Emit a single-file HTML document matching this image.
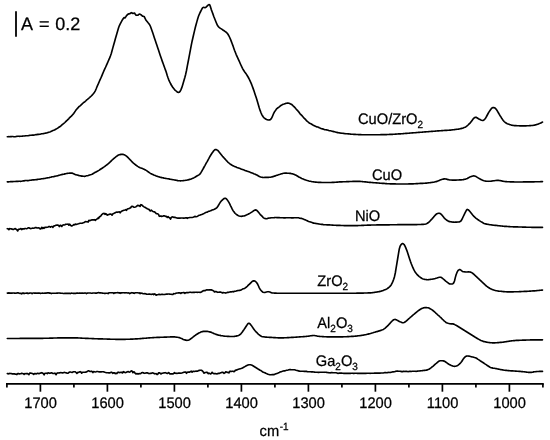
<!DOCTYPE html>
<html><head><meta charset="utf-8"><title>IR spectra</title>
<style>
html,body{margin:0;padding:0;background:#fff;}
body{width:550px;height:440px;overflow:hidden;}
svg{display:block;}
text{font-family:"Liberation Sans",Arial,sans-serif;fill:#000;text-rendering:geometricPrecision;stroke:#000;stroke-width:0.25px;}
.c{fill:none;stroke:#000;stroke-width:1.65;stroke-linejoin:round;stroke-linecap:round;}
.ax line{stroke:#000;stroke-width:1.7;}
.lb{font-size:14.67px;}
.sub{font-size:10px;}
.sup{font-size:10px;}
</style></head><body>
<svg width="550" height="440" viewBox="0 0 550 440">
<rect width="550" height="440" fill="#fff"/>
<line x1="16" y1="11.3" x2="16" y2="36.8" stroke="#000" stroke-width="1.8"/>
<text x="21" y="29.8" font-size="18">A<tspan dx="2"> =</tspan><tspan dx="0.8"> 0.2</tspan></text>
<path class="c" d="M7.3,136.7 8.1,136.7 8.9,136.6 9.7,136.7 10.5,136.6 11.3,136.6 12.1,136.5 12.9,136.5 13.7,136.7 14.5,136.8 15.3,136.7 16.1,136.5 16.9,136.4 17.7,136.3 18.5,136.2 19.3,136.3 20.1,136.3 20.9,136.2 21.7,136.2 22.5,136.1 23.3,136.0 24.1,136.0 24.9,135.9 25.7,135.7 26.5,135.7 27.3,135.7 28.1,135.7 28.9,135.5 29.7,135.4 30.5,135.3 31.3,135.2 32.1,135.1 32.9,135.1 33.7,135.1 34.5,135.0 35.3,134.8 36.1,134.6 36.9,134.6 37.7,134.4 38.5,134.3 39.3,134.3 40.1,134.2 40.9,134.0 41.7,133.8 42.5,133.7 43.3,133.6 44.1,133.5 44.9,133.3 45.7,133.1 46.5,133.0 47.3,132.7 48.1,132.4 48.9,132.2 49.7,132.0 50.5,131.7 51.3,131.3 52.1,130.9 52.9,130.6 53.7,130.3 54.5,130.0 55.3,129.5 56.1,129.1 56.9,128.6 57.7,128.1 58.5,127.5 59.3,127.0 60.1,126.5 60.9,125.9 61.7,125.1 62.5,124.4 63.3,123.8 64.1,123.2 64.9,122.5 65.7,121.7 66.5,120.9 67.3,120.2 68.1,119.4 68.9,118.6 69.7,117.6 70.5,116.8 71.3,116.1 72.1,115.3 72.9,114.4 73.7,113.4 74.5,112.3 75.3,111.1 76.1,109.9 76.9,109.0 77.7,108.1 78.5,107.2 79.3,106.4 80.1,105.8 80.9,105.1 81.7,104.4 82.5,103.5 83.3,102.8 84.1,102.2 84.9,101.7 85.7,101.0 86.5,100.2 87.3,99.5 88.1,98.8 88.9,98.2 89.7,97.5 90.5,96.7 91.3,96.0 92.1,95.2 92.9,94.3 93.7,93.3 94.5,92.2 95.3,90.8 96.1,89.0 96.9,87.0 97.7,85.1 98.5,83.4 99.3,81.5 100.1,79.7 100.9,78.0 101.7,76.2 102.5,74.1 103.3,72.2 104.1,70.4 104.9,68.7 105.7,67.0 106.5,65.2 107.3,63.4 108.1,61.5 108.9,59.7 109.7,57.9 110.5,55.8 111.3,53.4 112.1,50.6 112.9,47.6 113.7,44.7 114.5,41.9 115.3,39.1 116.1,36.2 116.9,33.5 117.7,30.8 118.5,28.1 119.3,25.8 120.1,24.1 120.9,22.6 121.7,21.1 122.5,19.7 123.3,18.5 124.1,17.6 124.9,18.0 125.7,16.9 126.5,15.7 127.3,14.9 128.1,14.1 128.9,13.9 129.7,13.7 130.5,13.2 131.3,12.7 132.1,13.0 132.9,13.5 133.7,13.2 134.5,13.0 135.3,14.2 136.1,15.3 136.9,15.2 137.7,15.2 138.5,14.7 139.3,14.1 140.1,14.3 140.9,14.7 141.7,15.4 142.5,16.2 143.3,16.3 144.1,16.5 144.9,18.0 145.7,19.7 146.5,20.8 147.3,21.8 148.1,22.8 148.9,23.7 149.7,24.9 150.5,26.5 151.3,28.7 152.1,31.0 152.9,33.3 153.7,35.7 154.5,38.2 155.3,40.6 156.1,42.9 156.9,45.3 157.7,47.7 158.5,50.1 159.3,52.5 160.1,54.9 160.9,57.2 161.7,59.6 162.5,61.9 163.3,64.0 164.1,66.3 164.9,68.5 165.7,70.6 166.5,73.1 167.3,75.7 168.1,78.0 168.9,80.1 169.7,81.9 170.5,83.5 171.3,85.0 172.1,86.3 172.9,87.6 173.7,88.6 174.5,89.6 175.3,90.3 176.1,91.0 176.9,91.7 177.7,92.2 178.5,92.4 179.3,92.3 180.1,91.4 180.9,89.9 181.7,87.9 182.5,85.4 183.3,82.7 184.1,79.9 184.9,77.2 185.7,74.2 186.5,70.5 187.3,66.2 188.1,62.0 188.9,57.8 189.7,53.6 190.5,49.4 191.3,45.2 192.1,41.2 192.9,37.7 193.7,34.3 194.5,30.9 195.3,27.5 196.1,24.5 196.9,21.6 197.7,18.8 198.5,16.3 199.3,14.3 200.1,12.5 200.9,11.0 201.7,9.4 202.5,7.9 203.3,7.4 204.1,7.5 204.9,7.6 205.7,7.4 206.5,6.8 207.3,5.9 208.1,5.1 208.9,4.6 209.7,4.8 210.5,6.9 211.3,9.6 212.1,11.7 212.9,13.9 213.7,16.2 214.5,18.3 215.3,20.3 216.1,22.3 216.9,24.2 217.7,25.8 218.5,26.8 219.3,27.5 220.1,28.1 220.9,28.6 221.7,29.1 222.5,29.7 223.3,30.2 224.1,30.7 224.9,31.3 225.7,31.9 226.5,32.5 227.3,33.3 228.1,34.5 228.9,35.9 229.7,37.5 230.5,39.3 231.3,41.4 232.1,43.5 232.9,45.6 233.7,47.9 234.5,50.2 235.3,52.2 236.1,54.3 236.9,56.1 237.7,57.8 238.5,59.6 239.3,61.3 240.1,63.2 240.9,65.0 241.7,66.7 242.5,68.3 243.3,69.8 244.1,71.1 244.9,72.2 245.7,73.2 246.5,74.4 247.3,75.7 248.1,77.0 248.9,78.5 249.7,80.2 250.5,81.9 251.3,83.6 252.1,85.7 252.9,87.9 253.7,90.1 254.5,92.5 255.3,94.9 256.1,97.3 256.9,99.7 257.7,102.4 258.5,105.3 259.3,108.0 260.1,110.4 260.9,112.5 261.7,114.3 262.5,115.8 263.3,117.0 264.1,117.8 264.9,118.5 265.7,119.0 266.5,119.5 267.3,119.7 268.1,119.9 268.9,120.0 269.7,119.9 270.5,119.5 271.3,118.6 272.1,117.2 272.9,115.3 273.7,113.3 274.5,111.8 275.3,110.8 276.1,109.6 276.9,108.6 277.7,108.0 278.5,107.4 279.3,106.8 280.1,106.1 280.9,105.5 281.7,105.1 282.5,104.6 283.3,104.2 284.1,104.0 284.9,103.7 285.7,103.4 286.5,103.2 287.3,103.1 288.1,103.1 288.9,103.2 289.7,103.5 290.5,103.9 291.3,104.3 292.1,104.8 292.9,105.6 293.7,106.3 294.5,107.1 295.3,108.0 296.1,109.0 296.9,109.9 297.7,110.7 298.5,111.6 299.3,112.7 300.1,113.8 300.9,114.6 301.7,115.4 302.5,116.3 303.3,117.2 304.1,118.1 304.9,118.9 305.7,119.7 306.5,120.6 307.3,121.3 308.1,122.0 308.9,122.7 309.7,123.2 310.5,123.6 311.3,124.0 312.1,124.5 312.9,125.0 313.7,125.4 314.5,125.8 315.3,126.2 316.1,126.6 316.9,126.9 317.7,127.0 318.5,127.2 319.3,127.7 320.1,128.1 320.9,128.4 321.7,128.7 322.5,128.9 323.3,129.1 324.1,129.4 324.9,129.7 325.7,129.8 326.5,129.9 327.3,130.0 328.1,130.3 328.9,130.6 329.7,130.7 330.5,130.8 331.3,131.0 332.1,131.2 332.9,131.4 333.7,131.6 334.5,131.8 335.3,132.0 336.1,132.2 336.9,132.4 337.7,132.6 338.5,132.8 339.3,132.9 340.1,133.0 340.9,133.1 341.7,133.2 342.5,133.3 343.3,133.4 344.1,133.5 344.9,133.6 345.7,133.7 346.5,133.7 347.3,133.8 348.1,133.9 348.9,133.9 349.7,134.0 350.5,134.1 351.3,134.2 352.1,134.2 352.9,134.3 353.7,134.4 354.5,134.4 355.3,134.4 356.1,134.5 356.9,134.5 357.7,134.5 358.5,134.6 359.3,134.6 360.1,134.6 360.9,134.6 361.7,134.7 362.5,134.7 363.3,134.7 364.1,134.7 364.9,134.7 365.7,134.7 366.5,134.7 367.3,134.7 368.1,134.7 368.9,134.7 369.7,134.7 370.5,134.7 371.3,134.7 372.1,134.7 372.9,134.7 373.7,134.7 374.5,134.7 375.3,134.7 376.1,134.7 376.9,134.7 377.7,134.7 378.5,134.7 379.3,134.7 380.1,134.7 380.9,134.6 381.7,134.6 382.5,134.6 383.3,134.6 384.1,134.6 384.9,134.6 385.7,134.6 386.5,134.6 387.3,134.5 388.1,134.5 388.9,134.5 389.7,134.4 390.5,134.4 391.3,134.4 392.1,134.3 392.9,134.3 393.7,134.2 394.5,134.2 395.3,134.1 396.1,134.1 396.9,134.0 397.7,134.0 398.5,133.9 399.3,133.9 400.1,133.8 400.9,133.8 401.7,133.7 402.5,133.7 403.3,133.6 404.1,133.5 404.9,133.5 405.7,133.4 406.5,133.3 407.3,133.3 408.1,133.2 408.9,133.2 409.7,133.1 410.5,133.0 411.3,133.0 412.1,132.9 412.9,132.9 413.7,132.8 414.5,132.7 415.3,132.7 416.1,132.6 416.9,132.5 417.7,132.5 418.5,132.4 419.3,132.4 420.1,132.3 420.9,132.2 421.7,132.2 422.5,132.1 423.3,132.0 424.1,132.0 424.9,131.9 425.7,131.9 426.5,131.8 427.3,131.7 428.1,131.7 428.9,131.6 429.7,131.5 430.5,131.5 431.3,131.4 432.1,131.3 432.9,131.3 433.7,131.2 434.5,131.2 435.3,131.1 436.1,131.0 436.9,131.0 437.7,130.9 438.5,130.8 439.3,130.8 440.1,130.7 440.9,130.7 441.7,130.6 442.5,130.6 443.3,130.5 444.1,130.5 444.9,130.4 445.7,130.4 446.5,130.3 447.3,130.3 448.1,130.2 448.9,130.2 449.7,130.1 450.5,130.1 451.3,130.0 452.1,129.9 452.9,129.8 453.7,129.7 454.5,129.6 455.3,129.5 456.1,129.4 456.9,129.3 457.7,129.2 458.5,129.1 459.3,129.0 460.1,128.8 460.9,128.6 461.7,128.4 462.5,128.2 463.3,127.9 464.1,127.6 464.9,127.3 465.7,126.9 466.5,126.3 467.3,125.7 468.1,125.0 468.9,124.2 469.7,123.4 470.5,122.6 471.3,121.5 472.1,120.4 472.9,119.3 473.7,118.4 474.5,117.7 475.3,117.3 476.1,117.3 476.9,117.8 477.7,118.3 478.5,118.8 479.3,119.2 480.1,119.6 480.9,120.0 481.7,120.3 482.5,120.5 483.3,120.4 484.1,119.9 484.9,119.0 485.7,117.9 486.5,116.5 487.3,115.0 488.1,113.5 488.9,112.1 489.7,110.9 490.5,109.8 491.3,108.7 492.1,107.9 492.9,107.6 493.7,107.6 494.5,107.8 495.3,108.3 496.1,109.1 496.9,110.3 497.7,111.6 498.5,113.0 499.3,114.4 500.1,115.7 500.9,116.9 501.7,118.2 502.5,119.4 503.3,120.5 504.1,121.5 504.9,122.2 505.7,122.8 506.5,123.3 507.3,123.7 508.1,124.0 508.9,124.3 509.7,124.6 510.5,124.8 511.3,125.1 512.1,125.3 512.9,125.4 513.7,125.5 514.5,125.6 515.3,125.6 516.1,125.6 516.9,125.7 517.7,125.7 518.5,125.7 519.3,125.8 520.1,125.8 520.9,125.8 521.7,125.8 522.5,125.8 523.3,125.8 524.1,125.8 524.9,125.8 525.7,125.8 526.5,125.8 527.3,125.7 528.1,125.7 528.9,125.7 529.7,125.6 530.5,125.6 531.3,125.5 532.1,125.5 532.9,125.4 533.7,125.2 534.5,125.1 535.3,124.9 536.1,124.7 536.9,124.4 537.7,124.2 538.5,123.9 539.3,123.6 540.1,123.3 540.9,122.9 541.7,122.5 542.5,122.1"/>
<path class="c" d="M7.3,181.8 8.1,181.8 8.9,181.8 9.7,181.7 10.5,181.6 11.3,181.5 12.1,181.6 12.9,181.6 13.7,181.5 14.5,181.5 15.3,181.5 16.1,181.4 16.9,181.3 17.7,181.3 18.5,181.3 19.3,181.2 20.1,181.3 20.9,181.3 21.7,181.2 22.5,181.0 23.3,180.9 24.1,180.9 24.9,180.6 25.7,180.5 26.5,180.5 27.3,180.6 28.1,180.6 28.9,180.5 29.7,180.2 30.5,180.2 31.3,180.1 32.1,180.0 32.9,179.9 33.7,179.8 34.5,179.8 35.3,179.7 36.1,179.6 36.9,179.6 37.7,179.4 38.5,179.3 39.3,179.2 40.1,179.1 40.9,179.0 41.7,178.8 42.5,178.7 43.3,178.6 44.1,178.5 44.9,178.4 45.7,178.2 46.5,178.0 47.3,177.9 48.1,177.8 48.9,177.7 49.7,177.4 50.5,177.3 51.3,177.1 52.1,176.8 52.9,176.7 53.7,176.6 54.5,176.4 55.3,176.2 56.1,176.0 56.9,175.9 57.7,175.7 58.5,175.4 59.3,175.2 60.1,175.0 60.9,174.8 61.7,174.6 62.5,174.4 63.3,174.2 64.1,174.1 64.9,173.9 65.7,173.7 66.5,173.5 67.3,173.4 68.1,173.3 68.9,173.2 69.7,173.1 70.5,173.1 71.3,173.1 72.1,173.1 72.9,173.4 73.7,173.8 74.5,174.2 75.3,174.6 76.1,174.8 76.9,175.0 77.7,175.1 78.5,175.4 79.3,175.6 80.1,175.7 80.9,175.9 81.7,176.1 82.5,176.1 83.3,176.2 84.1,176.3 84.9,176.3 85.7,176.1 86.5,175.8 87.3,175.7 88.1,175.6 88.9,175.3 89.7,175.0 90.5,174.7 91.3,174.5 92.1,174.2 92.9,173.7 93.7,173.2 94.5,172.8 95.3,172.3 96.1,171.9 96.9,171.5 97.7,171.1 98.5,170.6 99.3,170.1 100.1,169.5 100.9,169.0 101.7,168.5 102.5,168.0 103.3,167.4 104.1,166.9 104.9,166.3 105.7,165.7 106.5,165.1 107.3,164.5 108.1,163.8 108.9,163.1 109.7,162.3 110.5,161.6 111.3,160.8 112.1,160.0 112.9,159.3 113.7,158.6 114.5,158.0 115.3,157.3 116.1,156.7 116.9,156.1 117.7,155.5 118.5,155.1 119.3,154.8 120.1,154.6 120.9,154.4 121.7,154.3 122.5,154.3 123.3,154.4 124.1,154.7 124.9,155.1 125.7,155.6 126.5,156.2 127.3,156.9 128.1,157.7 128.9,158.5 129.7,159.3 130.5,160.2 131.3,161.0 132.1,161.8 132.9,162.6 133.7,163.3 134.5,164.0 135.3,164.6 136.1,165.3 136.9,165.8 137.7,166.4 138.5,166.9 139.3,167.3 140.1,167.7 140.9,168.0 141.7,168.3 142.5,168.6 143.3,168.9 144.1,169.3 144.9,169.7 145.7,170.1 146.5,170.6 147.3,171.2 148.1,171.8 148.9,172.3 149.7,172.9 150.5,173.4 151.3,173.8 152.1,174.2 152.9,174.6 153.7,175.0 154.5,175.3 155.3,175.6 156.1,175.9 156.9,176.2 157.7,176.4 158.5,176.7 159.3,176.9 160.1,177.2 160.9,177.4 161.7,177.6 162.5,177.8 163.3,177.9 164.1,178.1 164.9,178.2 165.7,178.4 166.5,178.5 167.3,178.7 168.1,178.8 168.9,178.9 169.7,179.1 170.5,179.2 171.3,179.4 172.1,179.5 172.9,179.7 173.7,179.8 174.5,180.0 175.3,180.1 176.1,180.3 176.9,180.4 177.7,180.6 178.5,180.7 179.3,180.7 180.1,180.8 180.9,180.8 181.7,180.7 182.5,180.7 183.3,180.6 184.1,180.5 184.9,180.5 185.7,180.3 186.5,180.2 187.3,180.0 188.1,179.9 188.9,179.6 189.7,179.4 190.5,179.2 191.3,178.9 192.1,178.6 192.9,178.2 193.7,177.9 194.5,177.4 195.3,177.0 196.1,176.5 196.9,176.0 197.7,175.6 198.5,175.1 199.3,174.6 200.1,173.8 200.9,172.7 201.7,171.3 202.5,169.9 203.3,168.5 204.1,167.0 204.9,165.6 205.7,164.1 206.5,162.7 207.3,161.3 208.1,159.8 208.9,158.4 209.7,156.9 210.5,155.5 211.3,154.2 212.1,153.0 212.9,151.9 213.7,150.8 214.5,150.0 215.3,149.6 216.1,149.6 216.9,149.9 217.7,150.4 218.5,151.2 219.3,152.2 220.1,153.2 220.9,154.2 221.7,155.2 222.5,156.2 223.3,157.1 224.1,158.0 224.9,158.9 225.7,159.8 226.5,160.7 227.3,161.5 228.1,162.3 228.9,163.0 229.7,163.7 230.5,164.3 231.3,164.8 232.1,165.3 232.9,165.7 233.7,166.1 234.5,166.4 235.3,166.7 236.1,167.0 236.9,167.4 237.7,167.7 238.5,168.0 239.3,168.3 240.1,168.6 240.9,168.9 241.7,169.2 242.5,169.5 243.3,169.8 244.1,170.1 244.9,170.4 245.7,170.7 246.5,170.9 247.3,171.2 248.1,171.5 248.9,171.8 249.7,172.1 250.5,172.4 251.3,172.7 252.1,173.0 252.9,173.3 253.7,173.7 254.5,174.0 255.3,174.3 256.1,174.7 256.9,175.1 257.7,175.5 258.5,176.0 259.3,176.4 260.1,176.8 260.9,177.1 261.7,177.3 262.5,177.4 263.3,177.5 264.1,177.5 264.9,177.4 265.7,177.4 266.5,177.4 267.3,177.4 268.1,177.3 268.9,177.3 269.7,177.2 270.5,177.2 271.3,177.0 272.1,176.9 272.9,176.6 273.7,176.4 274.5,176.1 275.3,175.9 276.1,175.6 276.9,175.3 277.7,175.1 278.5,174.8 279.3,174.5 280.1,174.3 280.9,174.0 281.7,173.8 282.5,173.6 283.3,173.3 284.1,173.2 284.9,173.1 285.7,173.1 286.5,173.1 287.3,173.2 288.1,173.2 288.9,173.3 289.7,173.4 290.5,173.4 291.3,173.6 292.1,173.7 292.9,173.9 293.7,174.2 294.5,174.5 295.3,174.9 296.1,175.3 296.9,175.8 297.7,176.3 298.5,176.8 299.3,177.3 300.1,177.6 300.9,178.0 301.7,178.4 302.5,178.7 303.3,179.1 304.1,179.4 304.9,179.7 305.7,180.0 306.5,180.2 307.3,180.5 308.1,180.7 308.9,181.0 309.7,181.2 310.5,181.3 311.3,181.5 312.1,181.7 312.9,181.8 313.7,181.9 314.5,182.0 315.3,182.1 316.1,182.1 316.9,182.2 317.7,182.3 318.5,182.3 319.3,182.4 320.1,182.4 320.9,182.4 321.7,182.5 322.5,182.5 323.3,182.5 324.1,182.5 324.9,182.5 325.7,182.5 326.5,182.5 327.3,182.5 328.1,182.5 328.9,182.5 329.7,182.5 330.5,182.5 331.3,182.5 332.1,182.4 332.9,182.4 333.7,182.3 334.5,182.3 335.3,182.2 336.1,182.2 336.9,182.1 337.7,182.1 338.5,182.0 339.3,181.9 340.1,181.9 340.9,181.8 341.7,181.8 342.5,181.8 343.3,181.7 344.1,181.7 344.9,181.7 345.7,181.7 346.5,181.6 347.3,181.6 348.1,181.6 348.9,181.6 349.7,181.5 350.5,181.5 351.3,181.5 352.1,181.5 352.9,181.4 353.7,181.4 354.5,181.4 355.3,181.4 356.1,181.4 356.9,181.3 357.7,181.3 358.5,181.4 359.3,181.4 360.1,181.4 360.9,181.5 361.7,181.5 362.5,181.6 363.3,181.7 364.1,181.8 364.9,181.9 365.7,181.9 366.5,182.0 367.3,182.1 368.1,182.2 368.9,182.3 369.7,182.3 370.5,182.4 371.3,182.5 372.1,182.5 372.9,182.6 373.7,182.7 374.5,182.7 375.3,182.8 376.1,182.9 376.9,182.9 377.7,183.0 378.5,183.0 379.3,183.1 380.1,183.2 380.9,183.2 381.7,183.3 382.5,183.3 383.3,183.4 384.1,183.4 384.9,183.5 385.7,183.6 386.5,183.6 387.3,183.7 388.1,183.7 388.9,183.7 389.7,183.8 390.5,183.8 391.3,183.8 392.1,183.9 392.9,183.9 393.7,183.9 394.5,183.9 395.3,183.9 396.1,184.0 396.9,184.0 397.7,184.0 398.5,184.0 399.3,184.0 400.1,184.0 400.9,184.0 401.7,184.0 402.5,184.0 403.3,184.0 404.1,184.0 404.9,184.0 405.7,184.0 406.5,184.0 407.3,184.0 408.1,184.0 408.9,183.9 409.7,183.9 410.5,183.9 411.3,183.9 412.1,183.8 412.9,183.8 413.7,183.8 414.5,183.7 415.3,183.7 416.1,183.6 416.9,183.6 417.7,183.6 418.5,183.5 419.3,183.5 420.1,183.4 420.9,183.4 421.7,183.4 422.5,183.3 423.3,183.3 424.1,183.2 424.9,183.2 425.7,183.1 426.5,183.1 427.3,183.0 428.1,182.9 428.9,182.8 429.7,182.7 430.5,182.6 431.3,182.5 432.1,182.4 432.9,182.3 433.7,182.2 434.5,182.0 435.3,181.8 436.1,181.6 436.9,181.4 437.7,181.1 438.5,180.7 439.3,180.4 440.1,180.1 440.9,179.8 441.7,179.5 442.5,179.3 443.3,179.1 444.1,178.9 444.9,178.9 445.7,179.0 446.5,179.1 447.3,179.4 448.1,179.6 448.9,179.8 449.7,180.0 450.5,180.0 451.3,180.0 452.1,180.1 452.9,180.1 453.7,180.1 454.5,180.1 455.3,180.1 456.1,180.1 456.9,180.0 457.7,180.0 458.5,180.0 459.3,179.9 460.1,179.9 460.9,179.8 461.7,179.8 462.5,179.7 463.3,179.6 464.1,179.4 464.9,179.3 465.7,179.1 466.5,178.8 467.3,178.5 468.1,178.0 468.9,177.6 469.7,177.1 470.5,176.8 471.3,176.5 472.1,176.2 472.9,176.0 473.7,175.9 474.5,176.0 475.3,176.3 476.1,176.6 476.9,177.1 477.7,177.6 478.5,178.1 479.3,178.6 480.1,179.0 480.9,179.4 481.7,179.8 482.5,180.2 483.3,180.5 484.1,180.8 484.9,181.0 485.7,181.1 486.5,181.2 487.3,181.2 488.1,181.3 488.9,181.2 489.7,181.2 490.5,181.2 491.3,181.1 492.1,181.0 492.9,180.9 493.7,180.8 494.5,180.7 495.3,180.5 496.1,180.5 496.9,180.4 497.7,180.4 498.5,180.4 499.3,180.5 500.1,180.6 500.9,180.8 501.7,180.9 502.5,181.1 503.3,181.2 504.1,181.4 504.9,181.5 505.7,181.6 506.5,181.6 507.3,181.7 508.1,181.7 508.9,181.7 509.7,181.8 510.5,181.8 511.3,181.8 512.1,181.9 512.9,181.9 513.7,181.9 514.5,182.0 515.3,182.0 516.1,182.0 516.9,182.0 517.7,182.0 518.5,182.0 519.3,182.0 520.1,182.0 520.9,182.0 521.7,182.0 522.5,182.0 523.3,181.9 524.1,181.9 524.9,181.9 525.7,181.9 526.5,181.9 527.3,181.9 528.1,181.9 528.9,181.9 529.7,181.8 530.5,181.8 531.3,181.8 532.1,181.8 532.9,181.8 533.7,181.8 534.5,181.8 535.3,181.7 536.1,181.7 536.9,181.7 537.7,181.7 538.5,181.7 539.3,181.7 540.1,181.7 540.9,181.6 541.7,181.6 542.5,181.6"/>
<path class="c" d="M7.3,228.7 8.1,228.8 8.9,229.7 9.7,228.6 10.5,228.7 11.3,228.9 12.1,229.1 12.9,229.4 13.7,229.4 14.5,228.8 15.3,228.6 16.1,229.3 16.9,229.8 17.7,231.0 18.5,229.4 19.3,229.2 20.1,228.9 20.9,228.6 21.7,229.6 22.5,228.8 23.3,228.9 24.1,228.9 24.9,228.5 25.7,228.5 26.5,228.7 27.3,228.4 28.1,227.9 28.9,227.8 29.7,228.2 30.5,228.6 31.3,228.5 32.1,228.3 32.9,228.1 33.7,228.2 34.5,228.0 35.3,227.6 36.1,227.6 36.9,227.9 37.7,228.0 38.5,227.9 39.3,228.0 40.1,228.9 40.9,228.9 41.7,227.3 42.5,228.5 43.3,227.7 44.1,228.3 44.9,227.4 45.7,227.3 46.5,227.3 47.3,227.2 48.1,227.0 48.9,226.6 49.7,226.5 50.5,227.2 51.3,226.5 52.1,226.5 52.9,227.3 53.7,226.0 54.5,225.9 55.3,225.6 56.1,225.2 56.9,225.1 57.7,225.1 58.5,225.2 59.3,226.6 60.1,225.4 60.9,225.4 61.7,226.5 62.5,225.2 63.3,224.9 64.1,225.0 64.9,224.7 65.7,224.2 66.5,224.2 67.3,224.2 68.1,224.1 68.9,225.2 69.7,224.2 70.5,225.1 71.3,225.9 72.1,225.9 72.9,225.4 73.7,224.6 74.5,224.8 75.3,224.1 76.1,224.4 76.9,224.2 77.7,224.0 78.5,223.8 79.3,223.5 80.1,223.3 80.9,223.2 81.7,223.3 82.5,223.1 83.3,222.8 84.1,222.5 84.9,221.9 85.7,221.6 86.5,221.8 87.3,221.7 88.1,222.1 88.9,220.4 89.7,220.6 90.5,220.5 91.3,220.0 92.1,219.8 92.9,219.8 93.7,219.9 94.5,219.7 95.3,220.3 96.1,219.6 96.9,219.1 97.7,218.2 98.5,218.5 99.3,217.0 100.1,216.6 100.9,215.8 101.7,214.7 102.5,214.0 103.3,213.5 104.1,213.4 104.9,214.3 105.7,213.7 106.5,214.2 107.3,215.2 108.1,214.5 108.9,214.6 109.7,214.1 110.5,214.0 111.3,214.2 112.1,215.2 112.9,213.8 113.7,213.5 114.5,213.1 115.3,212.8 116.1,212.2 116.9,212.1 117.7,212.3 118.5,212.0 119.3,211.8 120.1,212.8 120.9,211.8 121.7,211.2 122.5,210.8 123.3,210.5 124.1,210.2 124.9,210.0 125.7,209.7 126.5,210.3 127.3,209.0 128.1,208.8 128.9,208.7 129.7,208.0 130.5,208.0 131.3,206.8 132.1,206.3 132.9,206.5 133.7,207.1 134.5,207.2 135.3,207.0 136.1,206.7 136.9,206.0 137.7,205.4 138.5,205.6 139.3,205.6 140.1,206.5 140.9,204.7 141.7,204.9 142.5,205.6 143.3,206.4 144.1,206.9 144.9,207.3 145.7,207.8 146.5,208.2 147.3,208.7 148.1,209.1 148.9,209.3 149.7,210.5 150.5,210.9 151.3,210.2 152.1,210.8 152.9,211.4 153.7,211.7 154.5,211.9 155.3,212.5 156.1,213.4 156.9,213.7 157.7,213.8 158.5,214.4 159.3,216.3 160.1,216.2 160.9,215.9 161.7,216.5 162.5,216.3 163.3,215.9 164.1,215.8 164.9,216.1 165.7,216.5 166.5,216.4 167.3,217.5 168.1,216.7 168.9,217.4 169.7,217.8 170.5,219.2 171.3,217.5 172.1,217.0 172.9,216.9 173.7,217.4 174.5,217.2 175.3,217.4 176.1,217.7 176.9,218.0 177.7,218.1 178.5,218.1 179.3,218.1 180.1,218.1 180.9,218.0 181.7,218.0 182.5,218.0 183.3,218.1 184.1,218.1 184.9,218.0 185.7,217.9 186.5,217.8 187.3,218.3 188.1,217.8 188.9,217.7 189.7,217.5 190.5,217.5 191.3,217.5 192.1,217.5 192.9,217.3 193.7,217.0 194.5,216.6 195.3,216.4 196.1,216.7 196.9,216.5 197.7,216.2 198.5,215.6 199.3,215.3 200.1,215.1 200.9,214.8 201.7,214.5 202.5,214.2 203.3,213.8 204.1,213.4 204.9,212.9 205.7,212.6 206.5,212.3 207.3,212.1 208.1,211.6 208.9,211.3 209.7,211.1 210.5,210.8 211.3,210.4 212.1,210.0 212.9,209.8 213.7,209.6 214.5,209.3 215.3,208.7 216.1,208.3 216.9,207.7 217.7,206.6 218.5,205.3 219.3,203.9 220.1,202.6 220.9,201.6 221.7,200.6 222.5,199.8 223.3,199.1 224.1,198.5 224.9,198.3 225.7,198.3 226.5,198.9 227.3,199.9 228.1,201.1 228.9,202.4 229.7,203.9 230.5,205.6 231.3,207.2 232.1,208.9 232.9,210.4 233.7,211.6 234.5,212.6 235.3,213.5 236.1,214.2 236.9,214.8 237.7,215.3 238.5,215.7 239.3,216.0 240.1,216.2 240.9,216.3 241.7,216.3 242.5,216.1 243.3,216.0 244.1,215.9 244.9,215.7 245.7,215.3 246.5,215.0 247.3,214.6 248.1,214.2 248.9,213.7 249.7,213.4 250.5,212.9 251.3,212.4 252.1,211.9 252.9,211.3 253.7,210.7 254.5,210.3 255.3,209.9 256.1,210.0 256.9,210.5 257.7,211.4 258.5,212.3 259.3,213.3 260.1,214.3 260.9,215.1 261.7,215.9 262.5,216.7 263.3,217.6 264.1,218.2 264.9,218.5 265.7,218.6 266.5,218.7 267.3,218.6 268.1,218.3 268.9,218.1 269.7,218.0 270.5,217.9 271.3,217.7 272.1,217.7 272.9,217.7 273.7,217.7 274.5,217.6 275.3,217.5 276.1,217.5 276.9,217.6 277.7,217.6 278.5,217.5 279.3,217.6 280.1,217.7 280.9,217.7 281.7,217.7 282.5,217.7 283.3,217.8 284.1,217.8 284.9,217.8 285.7,217.8 286.5,217.7 287.3,217.7 288.1,217.7 288.9,217.7 289.7,217.7 290.5,217.8 291.3,217.9 292.1,217.9 292.9,217.8 293.7,217.8 294.5,217.7 295.3,217.7 296.1,217.7 296.9,217.8 297.7,217.7 298.5,217.8 299.3,218.1 300.1,218.3 300.9,218.4 301.7,218.4 302.5,218.7 303.3,219.1 304.1,219.4 304.9,219.7 305.7,220.1 306.5,220.4 307.3,220.8 308.1,221.3 308.9,221.6 309.7,221.7 310.5,222.0 311.3,222.3 312.1,222.6 312.9,222.9 313.7,223.1 314.5,223.3 315.3,223.4 316.1,223.5 316.9,223.6 317.7,223.7 318.5,223.9 319.3,224.0 320.1,224.2 320.9,224.3 321.7,224.3 322.5,224.4 323.3,224.6 324.1,224.7 324.9,224.7 325.7,224.7 326.5,224.8 327.3,224.8 328.1,224.8 328.9,224.8 329.7,224.9 330.5,225.0 331.3,225.0 332.1,225.1 332.9,225.1 333.7,225.2 334.5,225.2 335.3,225.2 336.1,225.3 336.9,225.3 337.7,225.3 338.5,225.4 339.3,225.4 340.1,225.4 340.9,225.5 341.7,225.5 342.5,225.5 343.3,225.5 344.1,225.6 344.9,225.6 345.7,225.6 346.5,225.6 347.3,225.6 348.1,225.6 348.9,225.6 349.7,225.6 350.5,225.6 351.3,225.6 352.1,225.6 352.9,225.6 353.7,225.6 354.5,225.6 355.3,225.6 356.1,225.6 356.9,225.6 357.7,225.6 358.5,225.5 359.3,225.5 360.1,225.5 360.9,225.5 361.7,225.4 362.5,225.4 363.3,225.3 364.1,225.3 364.9,225.2 365.7,225.2 366.5,225.2 367.3,225.1 368.1,225.1 368.9,225.1 369.7,225.1 370.5,225.1 371.3,225.0 372.1,225.0 372.9,225.0 373.7,225.0 374.5,225.0 375.3,225.0 376.1,225.0 376.9,224.9 377.7,224.9 378.5,224.9 379.3,224.9 380.1,224.9 380.9,224.9 381.7,224.9 382.5,224.9 383.3,224.8 384.1,224.8 384.9,224.8 385.7,224.8 386.5,224.8 387.3,224.8 388.1,224.8 388.9,224.8 389.7,224.8 390.5,224.7 391.3,224.7 392.1,224.7 392.9,224.7 393.7,224.7 394.5,224.7 395.3,224.7 396.1,224.7 396.9,224.7 397.7,224.6 398.5,224.6 399.3,224.6 400.1,224.6 400.9,224.6 401.7,224.6 402.5,224.6 403.3,224.6 404.1,224.6 404.9,224.6 405.7,224.6 406.5,224.6 407.3,224.6 408.1,224.6 408.9,224.6 409.7,224.6 410.5,224.6 411.3,224.6 412.1,224.6 412.9,224.6 413.7,224.6 414.5,224.6 415.3,224.6 416.1,224.6 416.9,224.6 417.7,224.5 418.5,224.5 419.3,224.5 420.1,224.5 420.9,224.5 421.7,224.4 422.5,224.4 423.3,224.4 424.1,224.3 424.9,224.2 425.7,224.0 426.5,223.7 427.3,223.3 428.1,222.8 428.9,222.1 429.7,221.3 430.5,220.5 431.3,219.6 432.1,218.8 432.9,217.9 433.7,216.9 434.5,216.0 435.3,215.1 436.1,214.3 436.9,213.8 437.7,213.5 438.5,213.2 439.3,213.2 440.1,213.5 440.9,214.0 441.7,214.8 442.5,215.8 443.3,216.8 444.1,217.8 444.9,218.6 445.7,219.3 446.5,220.0 447.3,220.6 448.1,221.0 448.9,221.4 449.7,221.6 450.5,221.8 451.3,221.9 452.1,222.0 452.9,222.1 453.7,222.1 454.5,222.2 455.3,222.1 456.1,222.1 456.9,222.1 457.7,222.0 458.5,222.0 459.3,221.9 460.1,221.6 460.9,221.0 461.7,219.8 462.5,218.2 463.3,216.5 464.1,214.8 464.9,213.2 465.7,211.7 466.5,210.2 467.3,209.4 468.1,209.7 468.9,210.4 469.7,211.3 470.5,212.2 471.3,213.2 472.1,214.2 472.9,215.2 473.7,216.1 474.5,216.9 475.3,217.6 476.1,218.3 476.9,218.9 477.7,219.5 478.5,220.0 479.3,220.6 480.1,221.1 480.9,221.6 481.7,222.1 482.5,222.5 483.3,223.0 484.1,223.4 484.9,223.7 485.7,223.9 486.5,224.1 487.3,224.3 488.1,224.4 488.9,224.5 489.7,224.7 490.5,224.8 491.3,224.9 492.1,225.0 492.9,225.1 493.7,225.2 494.5,225.3 495.3,225.3 496.1,225.4 496.9,225.5 497.7,225.6 498.5,225.7 499.3,225.8 500.1,225.9 500.9,226.0 501.7,226.0 502.5,226.1 503.3,226.2 504.1,226.3 504.9,226.3 505.7,226.4 506.5,226.4 507.3,226.5 508.1,226.5 508.9,226.6 509.7,226.6 510.5,226.7 511.3,226.7 512.1,226.7 512.9,226.8 513.7,226.8 514.5,226.8 515.3,226.9 516.1,226.9 516.9,226.9 517.7,226.9 518.5,227.0 519.3,227.0 520.1,227.0 520.9,227.0 521.7,227.0 522.5,227.1 523.3,227.1 524.1,227.1 524.9,227.1 525.7,227.1 526.5,227.2 527.3,227.2 528.1,227.2 528.9,227.2 529.7,227.2 530.5,227.2 531.3,227.3 532.1,227.3 532.9,227.3 533.7,227.3 534.5,227.3 535.3,227.3 536.1,227.3 536.9,227.3 537.7,227.4 538.5,227.4 539.3,227.4 540.1,227.4 540.9,227.4 541.7,227.4 542.5,227.4"/>
<path class="c" d="M7.3,293.1 8.1,293.1 8.9,292.9 9.7,293.1 10.5,293.1 11.3,293.0 12.1,293.1 12.9,293.0 13.7,293.0 14.5,293.1 15.3,293.2 16.1,293.1 16.9,293.0 17.7,292.8 18.5,292.9 19.3,293.2 20.1,293.4 20.9,293.3 21.7,293.8 22.5,293.1 23.3,293.0 24.1,293.6 24.9,293.2 25.7,293.2 26.5,293.1 27.3,293.0 28.1,293.6 28.9,293.2 29.7,293.1 30.5,293.0 31.3,293.0 32.1,293.7 32.9,293.0 33.7,293.0 34.5,293.1 35.3,293.1 36.1,293.0 36.9,293.2 37.7,293.1 38.5,293.0 39.3,293.1 40.1,293.3 40.9,293.3 41.7,293.2 42.5,293.1 43.3,293.2 44.1,293.2 44.9,293.1 45.7,293.1 46.5,293.1 47.3,292.8 48.1,292.8 48.9,292.9 49.7,293.1 50.5,293.1 51.3,293.6 52.1,293.2 52.9,293.2 53.7,293.2 54.5,293.2 55.3,293.3 56.1,293.2 56.9,293.1 57.7,293.1 58.5,293.0 59.3,293.0 60.1,293.1 60.9,293.2 61.7,293.2 62.5,293.3 63.3,293.5 64.1,293.5 64.9,293.3 65.7,293.3 66.5,293.3 67.3,293.3 68.1,293.3 68.9,293.3 69.7,293.3 70.5,293.6 71.3,293.1 72.1,293.2 72.9,293.3 73.7,293.3 74.5,293.3 75.3,293.3 76.1,293.3 76.9,293.1 77.7,293.1 78.5,293.2 79.3,293.1 80.1,293.0 80.9,293.2 81.7,293.1 82.5,293.1 83.3,293.2 84.1,293.1 84.9,293.0 85.7,293.0 86.5,293.6 87.3,293.1 88.1,293.0 88.9,293.0 89.7,293.0 90.5,293.0 91.3,293.2 92.1,293.2 92.9,293.0 93.7,293.0 94.5,293.0 95.3,293.1 96.1,293.1 96.9,293.1 97.7,292.7 98.5,292.6 99.3,292.8 100.1,292.8 100.9,292.9 101.7,293.0 102.5,293.1 103.3,293.2 104.1,293.3 104.9,293.3 105.7,293.3 106.5,293.2 107.3,293.2 108.1,293.6 108.9,292.8 109.7,292.7 110.5,292.7 111.3,292.8 112.1,292.7 112.9,292.7 113.7,293.5 114.5,292.9 115.3,292.9 116.1,292.8 116.9,292.7 117.7,292.6 118.5,292.8 119.3,292.8 120.1,293.3 120.9,292.8 121.7,292.9 122.5,292.7 123.3,292.7 124.1,292.8 124.9,292.9 125.7,292.7 126.5,292.7 127.3,292.9 128.1,293.0 128.9,292.9 129.7,293.6 130.5,293.2 131.3,292.7 132.1,292.8 132.9,292.9 133.7,293.1 134.5,293.3 135.3,292.7 136.1,292.7 136.9,292.7 137.7,292.8 138.5,293.0 139.3,292.9 140.1,293.6 140.9,293.0 141.7,293.2 142.5,293.4 143.3,293.7 144.1,293.8 144.9,293.6 145.7,293.7 146.5,294.2 147.3,294.3 148.1,294.2 148.9,294.1 149.7,294.1 150.5,294.2 151.3,294.4 152.1,294.3 152.9,294.0 153.7,294.6 154.5,293.9 155.3,294.3 156.1,295.2 156.9,294.7 157.7,294.7 158.5,294.4 159.3,294.4 160.1,294.6 160.9,294.5 161.7,294.4 162.5,294.4 163.3,294.5 164.1,294.5 164.9,294.4 165.7,294.2 166.5,294.1 167.3,294.1 168.1,294.0 168.9,294.0 169.7,294.1 170.5,294.2 171.3,294.2 172.1,294.5 172.9,294.4 173.7,293.6 174.5,293.7 175.3,293.6 176.1,293.2 176.9,293.0 177.7,293.0 178.5,292.9 179.3,292.9 180.1,292.9 180.9,293.5 181.7,292.7 182.5,292.7 183.3,292.6 184.1,292.6 184.9,293.3 185.7,292.7 186.5,292.6 187.3,292.6 188.1,292.6 188.9,292.5 189.7,292.3 190.5,292.2 191.3,292.4 192.1,292.5 192.9,292.4 193.7,292.4 194.5,292.4 195.3,292.3 196.1,292.2 196.9,292.3 197.7,292.3 198.5,292.2 199.3,292.2 200.1,292.4 200.9,292.2 201.7,291.8 202.5,291.3 203.3,290.8 204.1,290.5 204.9,290.6 205.7,290.4 206.5,289.9 207.3,289.9 208.1,290.0 208.9,289.9 209.7,289.8 210.5,289.8 211.3,289.9 212.1,290.1 212.9,290.6 213.7,290.9 214.5,292.0 215.3,291.6 216.1,291.6 216.9,291.9 217.7,292.3 218.5,292.2 219.3,292.1 220.1,292.1 220.9,292.1 221.7,292.6 222.5,293.0 223.3,292.5 224.1,292.7 224.9,292.7 225.7,293.1 226.5,292.8 227.3,292.4 228.1,292.4 228.9,292.2 229.7,292.0 230.5,291.9 231.3,291.9 232.1,291.8 232.9,291.5 233.7,291.8 234.5,291.2 235.3,291.2 236.1,291.1 236.9,290.8 237.7,290.6 238.5,290.5 239.3,290.3 240.1,290.3 240.9,290.1 241.7,289.6 242.5,289.1 243.3,288.8 244.1,288.6 244.9,288.2 245.7,287.6 246.5,287.0 247.3,286.3 248.1,285.4 248.9,284.6 249.7,284.0 250.5,283.1 251.3,282.3 252.1,281.5 252.9,281.1 253.7,280.9 254.5,280.9 255.3,281.3 256.1,282.0 256.9,283.0 257.7,284.3 258.5,286.0 259.3,287.8 260.1,289.2 260.9,290.3 261.7,291.2 262.5,291.9 263.3,292.3 264.1,292.5 264.9,292.4 265.7,292.2 266.5,292.0 267.3,291.8 268.1,291.7 268.9,291.8 269.7,292.0 270.5,292.3 271.3,292.7 272.1,292.9 272.9,293.0 273.7,293.0 274.5,293.1 275.3,293.1 276.1,293.1 276.9,293.2 277.7,293.2 278.5,293.2 279.3,293.2 280.1,293.2 280.9,293.2 281.7,293.2 282.5,293.2 283.3,293.2 284.1,293.2 284.9,293.2 285.7,293.2 286.5,293.2 287.3,293.2 288.1,293.2 288.9,293.2 289.7,293.2 290.5,293.2 291.3,293.2 292.1,293.2 292.9,293.2 293.7,293.2 294.5,293.2 295.3,293.2 296.1,293.2 296.9,293.2 297.7,293.2 298.5,293.2 299.3,293.2 300.1,293.2 300.9,293.2 301.7,293.2 302.5,293.2 303.3,293.2 304.1,293.2 304.9,293.2 305.7,293.2 306.5,293.2 307.3,293.2 308.1,293.2 308.9,293.2 309.7,293.2 310.5,293.2 311.3,293.2 312.1,293.2 312.9,293.2 313.7,293.2 314.5,293.2 315.3,293.2 316.1,293.2 316.9,293.2 317.7,293.2 318.5,293.2 319.3,293.2 320.1,293.2 320.9,293.2 321.7,293.2 322.5,293.2 323.3,293.2 324.1,293.2 324.9,293.2 325.7,293.2 326.5,293.2 327.3,293.2 328.1,293.2 328.9,293.2 329.7,293.2 330.5,293.2 331.3,293.2 332.1,293.2 332.9,293.2 333.7,293.2 334.5,293.2 335.3,293.2 336.1,293.2 336.9,293.2 337.7,293.2 338.5,293.2 339.3,293.2 340.1,293.2 340.9,293.2 341.7,293.2 342.5,293.2 343.3,293.2 344.1,293.2 344.9,293.2 345.7,293.2 346.5,293.2 347.3,293.2 348.1,293.2 348.9,293.2 349.7,293.2 350.5,293.2 351.3,293.2 352.1,293.2 352.9,293.2 353.7,293.2 354.5,293.2 355.3,293.2 356.1,293.2 356.9,293.1 357.7,293.1 358.5,293.1 359.3,293.1 360.1,293.1 360.9,293.1 361.7,293.1 362.5,293.1 363.3,293.1 364.1,293.0 364.9,293.0 365.7,293.0 366.5,293.0 367.3,293.0 368.1,292.9 368.9,292.9 369.7,292.9 370.5,292.8 371.3,292.8 372.1,292.7 372.9,292.6 373.7,292.5 374.5,292.4 375.3,292.3 376.1,292.1 376.9,292.0 377.7,291.9 378.5,291.8 379.3,291.6 380.1,291.4 380.9,291.2 381.7,290.9 382.5,290.7 383.3,290.4 384.1,290.1 384.9,289.8 385.7,289.5 386.5,289.1 387.3,288.6 388.1,288.0 388.9,287.4 389.7,286.7 390.5,285.9 391.3,284.7 392.1,283.2 392.9,281.4 393.7,279.3 394.5,276.7 395.3,273.0 396.1,268.2 396.9,263.3 397.7,258.5 398.5,253.6 399.3,248.9 400.1,246.2 400.9,244.9 401.7,244.0 402.5,243.6 403.3,243.8 404.1,244.5 404.9,245.9 405.7,247.7 406.5,249.6 407.3,251.8 408.1,254.2 408.9,256.7 409.7,259.2 410.5,261.6 411.3,263.8 412.1,265.8 412.9,267.7 413.7,269.4 414.5,270.9 415.3,272.2 416.1,273.3 416.9,274.3 417.7,275.1 418.5,275.9 419.3,276.6 420.1,277.2 420.9,277.8 421.7,278.3 422.5,278.7 423.3,279.0 424.1,279.2 424.9,279.4 425.7,279.5 426.5,279.6 427.3,279.7 428.1,279.7 428.9,279.6 429.7,279.5 430.5,279.4 431.3,279.3 432.1,279.2 432.9,279.0 433.7,278.9 434.5,278.7 435.3,278.5 436.1,278.2 436.9,278.0 437.7,277.7 438.5,277.5 439.3,277.3 440.1,277.2 440.9,277.3 441.7,277.7 442.5,278.3 443.3,279.0 444.1,279.7 444.9,280.4 445.7,281.1 446.5,281.7 447.3,282.3 448.1,282.9 448.9,283.5 449.7,283.9 450.5,284.0 451.3,284.0 452.1,284.0 452.9,283.7 453.7,282.9 454.5,281.0 455.3,277.6 456.1,274.7 456.9,272.7 457.7,271.0 458.5,270.1 459.3,269.6 460.1,269.6 460.9,270.2 461.7,270.8 462.5,271.4 463.3,271.7 464.1,271.8 464.9,271.9 465.7,272.0 466.5,272.0 467.3,272.0 468.1,271.9 468.9,271.9 469.7,272.0 470.5,272.1 471.3,272.4 472.1,272.9 472.9,273.5 473.7,274.1 474.5,274.9 475.3,275.6 476.1,276.4 476.9,277.1 477.7,277.9 478.5,278.6 479.3,279.3 480.1,280.1 480.9,280.8 481.7,281.6 482.5,282.3 483.3,283.1 484.1,283.8 484.9,284.6 485.7,285.3 486.5,286.1 487.3,286.7 488.1,287.3 488.9,287.8 489.7,288.3 490.5,288.7 491.3,289.1 492.1,289.4 492.9,289.7 493.7,290.0 494.5,290.3 495.3,290.5 496.1,290.7 496.9,290.8 497.7,291.0 498.5,291.1 499.3,291.2 500.1,291.2 500.9,291.3 501.7,291.4 502.5,291.5 503.3,291.6 504.1,291.6 504.9,291.7 505.7,291.7 506.5,291.8 507.3,291.8 508.1,291.8 508.9,291.8 509.7,291.8 510.5,291.8 511.3,291.8 512.1,291.8 512.9,291.8 513.7,291.8 514.5,291.7 515.3,291.7 516.1,291.7 516.9,291.7 517.7,291.7 518.5,291.7 519.3,291.6 520.1,291.6 520.9,291.6 521.7,291.5 522.5,291.5 523.3,291.5 524.1,291.4 524.9,291.4 525.7,291.4 526.5,291.3 527.3,291.3 528.1,291.2 528.9,291.2 529.7,291.1 530.5,291.1 531.3,291.0 532.1,291.0 532.9,290.9 533.7,290.9 534.5,290.8 535.3,290.8 536.1,290.7 536.9,290.6 537.7,290.5 538.5,290.5 539.3,290.4 540.1,290.3 540.9,290.2 541.7,290.1 542.5,290.1"/>
<path class="c" d="M7.3,338.5 8.1,338.5 8.9,338.5 9.7,338.5 10.5,338.5 11.3,338.5 12.1,338.5 12.9,338.5 13.7,338.5 14.5,338.5 15.3,338.5 16.1,338.5 16.9,338.5 17.7,338.5 18.5,338.5 19.3,338.5 20.1,338.4 20.9,338.4 21.7,338.4 22.5,338.4 23.3,338.4 24.1,338.4 24.9,338.4 25.7,338.4 26.5,338.4 27.3,338.4 28.1,338.4 28.9,338.4 29.7,338.4 30.5,338.4 31.3,338.4 32.1,338.4 32.9,338.4 33.7,338.3 34.5,338.3 35.3,338.3 36.1,338.3 36.9,338.3 37.7,338.3 38.5,338.3 39.3,338.3 40.1,338.3 40.9,338.3 41.7,338.3 42.5,338.3 43.3,338.3 44.1,338.2 44.9,338.2 45.7,338.2 46.5,338.2 47.3,338.2 48.1,338.2 48.9,338.2 49.7,338.1 50.5,338.1 51.3,338.1 52.1,338.1 52.9,338.1 53.7,338.0 54.5,338.0 55.3,338.0 56.1,338.0 56.9,338.0 57.7,337.9 58.5,337.9 59.3,337.9 60.1,337.9 60.9,337.9 61.7,337.8 62.5,337.8 63.3,337.8 64.1,337.8 64.9,337.8 65.7,337.8 66.5,337.8 67.3,337.8 68.1,337.8 68.9,337.8 69.7,337.8 70.5,337.8 71.3,337.8 72.1,337.8 72.9,337.8 73.7,337.8 74.5,337.8 75.3,337.8 76.1,337.9 76.9,337.9 77.7,337.9 78.5,338.0 79.3,338.0 80.1,338.0 80.9,338.1 81.7,338.1 82.5,338.2 83.3,338.2 84.1,338.2 84.9,338.3 85.7,338.3 86.5,338.4 87.3,338.4 88.1,338.4 88.9,338.5 89.7,338.5 90.5,338.5 91.3,338.5 92.1,338.6 92.9,338.6 93.7,338.6 94.5,338.7 95.3,338.7 96.1,338.7 96.9,338.7 97.7,338.8 98.5,338.8 99.3,338.8 100.1,338.8 100.9,338.9 101.7,338.9 102.5,338.9 103.3,339.0 104.1,339.0 104.9,339.0 105.7,339.0 106.5,339.0 107.3,339.1 108.1,339.1 108.9,339.1 109.7,339.1 110.5,339.2 111.3,339.2 112.1,339.2 112.9,339.2 113.7,339.2 114.5,339.2 115.3,339.3 116.1,339.3 116.9,339.3 117.7,339.3 118.5,339.3 119.3,339.3 120.1,339.3 120.9,339.3 121.7,339.3 122.5,339.3 123.3,339.3 124.1,339.3 124.9,339.3 125.7,339.3 126.5,339.2 127.3,339.2 128.1,339.2 128.9,339.2 129.7,339.2 130.5,339.1 131.3,339.1 132.1,339.1 132.9,339.1 133.7,339.0 134.5,339.0 135.3,338.9 136.1,338.9 136.9,338.8 137.7,338.8 138.5,338.7 139.3,338.7 140.1,338.6 140.9,338.6 141.7,338.5 142.5,338.4 143.3,338.4 144.1,338.3 144.9,338.2 145.7,338.2 146.5,338.1 147.3,338.0 148.1,338.0 148.9,337.9 149.7,337.9 150.5,337.8 151.3,337.7 152.1,337.7 152.9,337.6 153.7,337.6 154.5,337.5 155.3,337.5 156.1,337.5 156.9,337.4 157.7,337.4 158.5,337.3 159.3,337.3 160.1,337.3 160.9,337.2 161.7,337.2 162.5,337.2 163.3,337.2 164.1,337.1 164.9,337.1 165.7,337.1 166.5,337.1 167.3,337.0 168.1,337.0 168.9,337.0 169.7,337.0 170.5,336.9 171.3,336.9 172.1,336.9 172.9,336.9 173.7,336.9 174.5,336.9 175.3,337.0 176.1,337.1 176.9,337.2 177.7,337.3 178.5,337.5 179.3,337.6 180.1,337.9 180.9,338.3 181.7,338.6 182.5,339.0 183.3,339.4 184.1,339.7 184.9,339.9 185.7,340.1 186.5,340.3 187.3,340.3 188.1,340.2 188.9,339.9 189.7,339.5 190.5,339.0 191.3,338.4 192.1,337.8 192.9,337.2 193.7,336.5 194.5,335.9 195.3,335.3 196.1,334.7 196.9,334.2 197.7,333.7 198.5,333.2 199.3,332.8 200.1,332.5 200.9,332.1 201.7,331.8 202.5,331.6 203.3,331.4 204.1,331.3 204.9,331.3 205.7,331.3 206.5,331.3 207.3,331.4 208.1,331.5 208.9,331.7 209.7,331.9 210.5,332.1 211.3,332.3 212.1,332.7 212.9,333.0 213.7,333.4 214.5,333.8 215.3,334.1 216.1,334.4 216.9,334.6 217.7,334.9 218.5,335.1 219.3,335.2 220.1,335.4 220.9,335.6 221.7,335.7 222.5,335.8 223.3,336.0 224.1,336.1 224.9,336.2 225.7,336.2 226.5,336.3 227.3,336.4 228.1,336.4 228.9,336.4 229.7,336.5 230.5,336.5 231.3,336.5 232.1,336.5 232.9,336.5 233.7,336.5 234.5,336.4 235.3,336.3 236.1,336.1 236.9,335.9 237.7,335.7 238.5,335.4 239.3,335.0 240.1,334.5 240.9,333.8 241.7,332.8 242.5,331.7 243.3,330.5 244.1,329.4 244.9,328.2 245.7,327.0 246.5,325.8 247.3,324.6 248.1,323.6 248.9,323.3 249.7,323.6 250.5,324.4 251.3,325.4 252.1,326.6 252.9,327.8 253.7,328.9 254.5,330.0 255.3,331.0 256.1,331.9 256.9,332.7 257.7,333.5 258.5,334.3 259.3,334.9 260.1,335.5 260.9,336.0 261.7,336.4 262.5,336.7 263.3,336.8 264.1,336.9 264.9,337.0 265.7,337.1 266.5,337.1 267.3,337.2 268.1,337.2 268.9,337.3 269.7,337.3 270.5,337.4 271.3,337.4 272.1,337.5 272.9,337.5 273.7,337.6 274.5,337.6 275.3,337.6 276.1,337.7 276.9,337.7 277.7,337.8 278.5,337.8 279.3,337.8 280.1,337.8 280.9,337.8 281.7,337.8 282.5,337.8 283.3,337.8 284.1,337.8 284.9,337.7 285.7,337.7 286.5,337.7 287.3,337.6 288.1,337.6 288.9,337.6 289.7,337.5 290.5,337.5 291.3,337.4 292.1,337.4 292.9,337.3 293.7,337.3 294.5,337.2 295.3,337.2 296.1,337.1 296.9,337.1 297.7,337.0 298.5,337.0 299.3,336.9 300.1,336.9 300.9,336.8 301.7,336.7 302.5,336.7 303.3,336.6 304.1,336.6 304.9,336.5 305.7,336.5 306.5,336.4 307.3,336.3 308.1,336.2 308.9,336.1 309.7,336.0 310.5,335.8 311.3,335.7 312.1,335.6 312.9,335.5 313.7,335.5 314.5,335.5 315.3,335.7 316.1,335.8 316.9,336.0 317.7,336.2 318.5,336.3 319.3,336.4 320.1,336.5 320.9,336.5 321.7,336.5 322.5,336.6 323.3,336.6 324.1,336.7 324.9,336.7 325.7,336.7 326.5,336.8 327.3,336.8 328.1,336.8 328.9,336.8 329.7,336.9 330.5,336.9 331.3,336.9 332.1,336.9 332.9,336.9 333.7,336.9 334.5,336.9 335.3,336.9 336.1,336.9 336.9,336.9 337.7,336.9 338.5,336.9 339.3,336.9 340.1,336.8 340.9,336.8 341.7,336.8 342.5,336.8 343.3,336.8 344.1,336.7 344.9,336.7 345.7,336.7 346.5,336.7 347.3,336.6 348.1,336.6 348.9,336.6 349.7,336.5 350.5,336.5 351.3,336.4 352.1,336.4 352.9,336.3 353.7,336.3 354.5,336.2 355.3,336.1 356.1,336.1 356.9,336.0 357.7,335.9 358.5,335.8 359.3,335.7 360.1,335.6 360.9,335.5 361.7,335.4 362.5,335.3 363.3,335.1 364.1,335.0 364.9,334.8 365.7,334.7 366.5,334.5 367.3,334.3 368.1,334.1 368.9,333.9 369.7,333.7 370.5,333.5 371.3,333.2 372.1,333.0 372.9,332.8 373.7,332.5 374.5,332.3 375.3,332.1 376.1,331.8 376.9,331.6 377.7,331.4 378.5,331.1 379.3,330.9 380.1,330.6 380.9,330.4 381.7,330.1 382.5,329.8 383.3,329.4 384.1,328.9 384.9,328.3 385.7,327.6 386.5,326.9 387.3,326.2 388.1,325.4 388.9,324.5 389.7,323.6 390.5,322.7 391.3,321.8 392.1,321.0 392.9,320.3 393.7,319.8 394.5,319.5 395.3,319.4 396.1,319.7 396.9,320.1 397.7,320.6 398.5,321.0 399.3,321.4 400.1,321.8 400.9,322.1 401.7,322.4 402.5,322.7 403.3,322.7 404.1,322.5 404.9,322.1 405.7,321.5 406.5,320.8 407.3,320.1 408.1,319.4 408.9,318.7 409.7,318.0 410.5,317.2 411.3,316.6 412.1,315.9 412.9,315.2 413.7,314.5 414.5,313.8 415.3,313.1 416.1,312.5 416.9,311.8 417.7,311.2 418.5,310.6 419.3,310.0 420.1,309.5 420.9,309.0 421.7,308.6 422.5,308.2 423.3,307.9 424.1,307.7 424.9,307.6 425.7,307.6 426.5,307.6 427.3,307.7 428.1,307.8 428.9,308.1 429.7,308.5 430.5,308.9 431.3,309.4 432.1,309.9 432.9,310.5 433.7,311.1 434.5,311.8 435.3,312.5 436.1,313.3 436.9,314.0 437.7,314.8 438.5,315.5 439.3,316.2 440.1,317.0 440.9,317.7 441.7,318.5 442.5,319.3 443.3,320.0 444.1,320.8 444.9,321.5 445.7,322.2 446.5,322.7 447.3,323.0 448.1,323.3 448.9,323.5 449.7,323.7 450.5,323.8 451.3,323.8 452.1,323.8 452.9,323.9 453.7,324.1 454.5,324.4 455.3,324.9 456.1,325.3 456.9,325.7 457.7,326.2 458.5,326.7 459.3,327.2 460.1,327.7 460.9,328.2 461.7,328.7 462.5,329.2 463.3,329.7 464.1,330.2 464.9,330.7 465.7,331.3 466.5,331.8 467.3,332.3 468.1,332.8 468.9,333.3 469.7,333.8 470.5,334.3 471.3,334.8 472.1,335.3 472.9,335.8 473.7,336.3 474.5,336.8 475.3,337.3 476.1,337.7 476.9,338.2 477.7,338.7 478.5,339.1 479.3,339.6 480.1,340.1 480.9,340.5 481.7,340.8 482.5,341.1 483.3,341.4 484.1,341.6 484.9,341.8 485.7,341.9 486.5,342.1 487.3,342.2 488.1,342.4 488.9,342.5 489.7,342.6 490.5,342.7 491.3,342.7 492.1,342.8 492.9,342.8 493.7,342.8 494.5,342.8 495.3,342.8 496.1,342.7 496.9,342.7 497.7,342.6 498.5,342.6 499.3,342.5 500.1,342.4 500.9,342.3 501.7,342.3 502.5,342.2 503.3,342.1 504.1,342.0 504.9,341.9 505.7,341.8 506.5,341.6 507.3,341.5 508.1,341.4 508.9,341.3 509.7,341.1 510.5,341.0 511.3,340.9 512.1,340.8 512.9,340.7 513.7,340.6 514.5,340.6 515.3,340.5 516.1,340.4 516.9,340.4 517.7,340.4 518.5,340.3 519.3,340.3 520.1,340.2 520.9,340.2 521.7,340.2 522.5,340.1 523.3,340.1 524.1,340.1 524.9,340.1 525.7,340.1 526.5,340.0 527.3,340.0 528.1,340.0 528.9,340.0 529.7,340.0 530.5,339.9 531.3,339.9 532.1,339.9 532.9,339.9 533.7,339.9 534.5,339.9 535.3,339.9 536.1,339.9 536.9,339.8 537.7,339.8 538.5,339.8 539.3,339.8 540.1,339.8 540.9,339.8 541.7,339.8 542.5,339.8"/>
<path class="c" d="M7.3,373.6 8.1,373.6 8.9,373.9 9.7,373.4 10.5,373.5 11.3,373.6 12.1,373.8 12.9,373.8 13.7,373.8 14.5,373.8 15.3,374.2 16.1,374.1 16.9,374.6 17.7,373.5 18.5,373.5 19.3,374.0 20.1,373.7 20.9,373.7 21.7,373.3 22.5,373.5 23.3,373.7 24.1,374.4 24.9,373.5 25.7,373.7 26.5,373.5 27.3,373.6 28.1,374.0 28.9,374.7 29.7,373.0 30.5,373.1 31.3,373.3 32.1,373.4 32.9,373.7 33.7,374.4 34.5,373.6 35.3,373.6 36.1,373.9 36.9,373.6 37.7,373.3 38.5,373.6 39.3,373.6 40.1,373.2 40.9,372.9 41.7,372.7 42.5,373.0 43.3,373.6 44.1,374.8 44.9,373.4 45.7,373.3 46.5,373.2 47.3,373.6 48.1,372.8 48.9,373.0 49.7,373.3 50.5,373.1 51.3,372.8 52.1,373.1 52.9,373.5 53.7,373.5 54.5,373.2 55.3,373.4 56.1,374.7 56.9,373.2 57.7,372.9 58.5,373.0 59.3,372.9 60.1,372.8 60.9,372.6 61.7,372.7 62.5,372.9 63.3,372.7 64.1,372.4 64.9,372.5 65.7,372.7 66.5,372.9 67.3,373.2 68.1,373.1 68.9,372.4 69.7,372.0 70.5,372.0 71.3,372.3 72.1,372.5 72.9,372.1 73.7,371.8 74.5,371.7 75.3,371.8 76.1,372.5 76.9,373.4 77.7,372.4 78.5,372.4 79.3,372.1 80.1,371.7 80.9,372.1 81.7,373.2 82.5,372.2 83.3,372.2 84.1,372.3 84.9,372.2 85.7,372.1 86.5,372.0 87.3,371.4 88.1,370.9 88.9,370.9 89.7,371.4 90.5,371.5 91.3,371.2 92.1,371.5 92.9,372.6 93.7,371.5 94.5,371.7 95.3,372.0 96.1,371.8 96.9,371.5 97.7,371.5 98.5,371.7 99.3,371.9 100.1,371.9 100.9,371.8 101.7,371.8 102.5,371.7 103.3,371.7 104.1,372.0 104.9,372.3 105.7,372.5 106.5,372.7 107.3,372.7 108.1,372.7 108.9,372.9 109.7,372.9 110.5,372.5 111.3,372.2 112.1,372.5 112.9,373.3 113.7,372.8 114.5,372.9 115.3,373.7 116.1,373.1 116.9,373.6 117.7,372.4 118.5,372.2 119.3,372.6 120.1,372.5 120.9,372.3 121.7,372.4 122.5,373.0 123.3,371.7 124.1,372.0 124.9,372.5 125.7,372.6 126.5,372.2 127.3,371.7 128.1,371.6 128.9,372.0 129.7,372.1 130.5,371.6 131.3,370.9 132.1,371.0 132.9,372.7 133.7,371.8 134.5,372.3 135.3,373.4 136.1,374.0 136.9,373.6 137.7,374.0 138.5,373.9 139.3,373.5 140.1,373.7 140.9,373.4 141.7,372.7 142.5,372.5 143.3,372.8 144.1,373.2 144.9,373.3 145.7,373.0 146.5,372.9 147.3,372.9 148.1,373.1 148.9,373.6 149.7,373.5 150.5,373.3 151.3,373.3 152.1,373.0 152.9,372.9 153.7,373.3 154.5,373.8 155.3,373.7 156.1,373.6 156.9,374.4 157.7,374.4 158.5,372.9 159.3,372.8 160.1,373.2 160.9,374.0 161.7,373.4 162.5,373.3 163.3,373.0 164.1,372.9 164.9,372.8 165.7,372.7 166.5,373.3 167.3,373.5 168.1,373.0 168.9,372.6 169.7,373.8 170.5,373.8 171.3,373.8 172.1,373.8 172.9,374.0 173.7,373.4 174.5,372.6 175.3,373.3 176.1,373.2 176.9,373.5 177.7,373.2 178.5,373.1 179.3,373.1 180.1,373.1 180.9,373.2 181.7,373.0 182.5,372.7 183.3,372.4 184.1,372.3 184.9,372.1 185.7,372.0 186.5,373.3 187.3,372.2 188.1,372.0 188.9,372.1 189.7,372.1 190.5,371.5 191.3,371.2 192.1,372.2 192.9,371.3 193.7,371.3 194.5,371.5 195.3,371.2 196.1,371.1 196.9,371.3 197.7,371.1 198.5,370.6 199.3,370.4 200.1,370.3 200.9,370.2 201.7,370.4 202.5,371.0 203.3,372.0 204.1,373.2 204.9,372.6 205.7,372.5 206.5,372.3 207.3,372.3 208.1,373.7 208.9,373.2 209.7,373.3 210.5,373.9 211.3,373.6 212.1,372.3 212.9,373.1 213.7,373.7 214.5,373.6 215.3,373.5 216.1,373.8 216.9,373.9 217.7,373.6 218.5,373.4 219.3,373.4 220.1,373.1 220.9,372.7 221.7,372.4 222.5,372.3 223.3,372.6 224.1,373.4 224.9,372.9 225.7,371.8 226.5,372.1 227.3,372.5 228.1,372.3 228.9,372.9 229.7,371.3 230.5,371.2 231.3,371.5 232.1,371.3 232.9,371.2 233.7,371.6 234.5,371.4 235.3,370.3 236.1,370.1 236.9,369.9 237.7,369.6 238.5,369.3 239.3,369.0 240.1,368.8 240.9,368.6 241.7,368.3 242.5,367.9 243.3,367.5 244.1,367.1 244.9,366.6 245.7,366.1 246.5,365.7 247.3,365.3 248.1,365.0 248.9,364.8 249.7,364.7 250.5,364.8 251.3,365.0 252.1,365.3 252.9,365.7 253.7,366.2 254.5,366.7 255.3,367.2 256.1,367.7 256.9,368.3 257.7,368.8 258.5,369.2 259.3,369.7 260.1,370.2 260.9,370.6 261.7,371.2 262.5,371.8 263.3,372.3 264.1,372.5 264.9,372.8 265.7,373.3 266.5,373.6 267.3,373.9 268.1,374.3 268.9,374.5 269.7,374.7 270.5,374.8 271.3,374.7 272.1,374.6 272.9,374.6 273.7,374.6 274.5,374.4 275.3,374.1 276.1,373.8 276.9,373.5 277.7,373.2 278.5,372.8 279.3,372.5 280.1,372.1 280.9,371.8 281.7,371.6 282.5,371.3 283.3,371.0 284.1,370.8 284.9,370.8 285.7,370.6 286.5,370.3 287.3,370.2 288.1,370.0 288.9,369.7 289.7,369.6 290.5,369.6 291.3,369.7 292.1,369.7 292.9,369.7 293.7,369.7 294.5,369.8 295.3,370.0 296.1,370.3 296.9,370.5 297.7,370.6 298.5,370.9 299.3,371.1 300.1,371.3 300.9,371.2 301.7,371.2 302.5,371.2 303.3,371.3 304.1,371.4 304.9,371.4 305.7,371.3 306.5,371.4 307.3,371.6 308.1,371.7 308.9,371.7 309.7,371.7 310.5,371.8 311.3,371.9 312.1,371.8 312.9,371.9 313.7,372.0 314.5,372.1 315.3,372.2 316.1,372.2 316.9,372.2 317.7,372.3 318.5,372.3 319.3,372.3 320.1,372.2 320.9,372.2 321.7,372.2 322.5,372.2 323.3,372.2 324.1,372.3 324.9,372.2 325.7,372.3 326.5,372.4 327.3,372.5 328.1,372.6 328.9,372.7 329.7,372.8 330.5,372.8 331.3,372.6 332.1,372.6 332.9,372.7 333.7,372.7 334.5,372.7 335.3,372.7 336.1,372.8 336.9,373.0 337.7,373.3 338.5,373.3 339.3,373.1 340.1,373.1 340.9,373.0 341.7,373.1 342.5,373.2 343.3,373.3 344.1,373.3 344.9,373.4 345.7,373.4 346.5,373.4 347.3,373.4 348.1,373.4 348.9,373.4 349.7,373.4 350.5,373.4 351.3,373.3 352.1,373.2 352.9,373.3 353.7,373.3 354.5,373.3 355.3,373.2 356.1,373.2 356.9,373.3 357.7,373.3 358.5,373.3 359.3,373.4 360.1,373.4 360.9,373.4 361.7,373.3 362.5,373.3 363.3,373.4 364.1,373.3 364.9,373.3 365.7,373.3 366.5,373.3 367.3,373.2 368.1,373.2 368.9,373.2 369.7,373.3 370.5,373.3 371.3,373.2 372.1,373.2 372.9,373.3 373.7,373.2 374.5,373.1 375.3,373.1 376.1,373.0 376.9,373.1 377.7,373.1 378.5,373.1 379.3,373.1 380.1,373.1 380.9,373.0 381.7,373.0 382.5,373.0 383.3,373.0 384.1,372.8 384.9,372.6 385.7,372.6 386.5,372.7 387.3,372.6 388.1,372.5 388.9,372.4 389.7,372.5 390.5,372.4 391.3,372.2 392.1,372.0 392.9,371.8 393.7,371.8 394.5,371.7 395.3,371.4 396.1,371.2 396.9,371.1 397.7,371.1 398.5,371.2 399.3,371.2 400.1,371.2 400.9,371.4 401.7,371.6 402.5,371.6 403.3,371.4 404.1,371.4 404.9,371.5 405.7,371.4 406.5,371.4 407.3,371.5 408.1,371.6 408.9,371.5 409.7,371.3 410.5,371.4 411.3,371.5 412.1,371.3 412.9,371.2 413.7,371.2 414.5,371.2 415.3,371.3 416.1,371.4 416.9,371.3 417.7,371.1 418.5,371.0 419.3,371.0 420.1,370.9 420.9,370.8 421.7,370.7 422.5,370.6 423.3,370.5 424.1,370.4 424.9,370.4 425.7,370.3 426.5,370.1 427.3,369.9 428.1,369.6 428.9,369.3 429.7,368.8 430.5,368.2 431.3,367.6 432.1,366.9 432.9,366.3 433.7,365.6 434.5,364.9 435.3,364.2 436.1,363.5 436.9,362.8 437.7,362.1 438.5,361.5 439.3,361.0 440.1,360.8 440.9,360.7 441.7,360.7 442.5,360.7 443.3,360.9 444.1,361.1 444.9,361.5 445.7,362.0 446.5,362.6 447.3,363.2 448.1,363.8 448.9,364.3 449.7,364.7 450.5,365.1 451.3,365.5 452.1,365.8 452.9,366.1 453.7,366.3 454.5,366.4 455.3,366.3 456.1,366.1 456.9,365.8 457.7,365.4 458.5,364.8 459.3,364.2 460.1,363.4 460.9,362.5 461.7,361.5 462.5,360.2 463.3,358.9 464.1,357.9 464.9,357.1 465.7,356.4 466.5,356.1 467.3,356.0 468.1,356.0 468.9,356.1 469.7,356.3 470.5,356.5 471.3,356.7 472.1,356.9 472.9,357.0 473.7,357.2 474.5,357.5 475.3,357.7 476.1,358.1 476.9,358.5 477.7,359.1 478.5,359.6 479.3,360.1 480.1,360.7 480.9,361.2 481.7,361.7 482.5,362.3 483.3,362.8 484.1,363.3 484.9,363.9 485.7,364.4 486.5,364.9 487.3,365.5 488.1,366.0 488.9,366.5 489.7,367.0 490.5,367.4 491.3,367.7 492.1,367.9 492.9,368.1 493.7,368.2 494.5,368.3 495.3,368.5 496.1,368.6 496.9,368.8 497.7,369.0 498.5,369.1 499.3,369.3 500.1,369.5 500.9,369.6 501.7,369.8 502.5,369.9 503.3,370.0 504.1,370.2 504.9,370.3 505.7,370.4 506.5,370.4 507.3,370.5 508.1,370.6 508.9,370.6 509.7,370.7 510.5,370.8 511.3,370.8 512.1,370.9 512.9,370.9 513.7,371.0 514.5,371.0 515.3,371.1 516.1,371.1 516.9,371.2 517.7,371.2 518.5,371.3 519.3,371.3 520.1,371.4 520.9,371.5 521.7,371.6 522.5,371.6 523.3,371.7 524.1,371.8 524.9,371.9 525.7,372.0 526.5,372.1 527.3,372.2 528.1,372.3 528.9,372.3 529.7,372.4 530.5,372.4 531.3,372.4 532.1,372.2 532.9,372.1 533.7,371.9 534.5,371.8 535.3,371.7 536.1,371.6 536.9,371.5 537.7,371.5 538.5,371.5 539.3,371.4 540.1,371.4 540.9,371.4 541.7,371.4 542.5,371.4"/>
<g class="ax">
<line x1="6.0" y1="383.9" x2="543.8" y2="383.9"/>
<line x1="6.9" y1="383.9" x2="6.9" y2="387.6"/>
<line x1="40.4" y1="383.9" x2="40.4" y2="391.7"/>
<line x1="73.9" y1="383.9" x2="73.9" y2="387.6"/>
<line x1="107.4" y1="383.9" x2="107.4" y2="391.7"/>
<line x1="140.9" y1="383.9" x2="140.9" y2="387.6"/>
<line x1="174.4" y1="383.9" x2="174.4" y2="391.7"/>
<line x1="207.9" y1="383.9" x2="207.9" y2="387.6"/>
<line x1="241.4" y1="383.9" x2="241.4" y2="391.7"/>
<line x1="274.9" y1="383.9" x2="274.9" y2="387.6"/>
<line x1="308.4" y1="383.9" x2="308.4" y2="391.7"/>
<line x1="341.9" y1="383.9" x2="341.9" y2="387.6"/>
<line x1="375.4" y1="383.9" x2="375.4" y2="391.7"/>
<line x1="408.9" y1="383.9" x2="408.9" y2="387.6"/>
<line x1="442.4" y1="383.9" x2="442.4" y2="391.7"/>
<line x1="475.9" y1="383.9" x2="475.9" y2="387.6"/>
<line x1="509.4" y1="383.9" x2="509.4" y2="391.7"/>
<line x1="542.9" y1="383.9" x2="542.9" y2="387.6"/>
</g>
<g class="lb">
<text transform="translate(40.6,408.1) scale(1,1.04)" text-anchor="middle">1700</text>
<text transform="translate(107.6,408.1) scale(1,1.04)" text-anchor="middle">1600</text>
<text transform="translate(174.6,408.1) scale(1,1.04)" text-anchor="middle">1500</text>
<text transform="translate(241.6,408.1) scale(1,1.04)" text-anchor="middle">1400</text>
<text transform="translate(308.6,408.1) scale(1,1.04)" text-anchor="middle">1300</text>
<text transform="translate(375.6,408.1) scale(1,1.04)" text-anchor="middle">1200</text>
<text transform="translate(442.6,408.1) scale(1,1.04)" text-anchor="middle">1100</text>
<text transform="translate(509.6,408.1) scale(1,1.04)" text-anchor="middle">1000</text>
<text transform="translate(358,123.6) scale(1,1.04)">CuO/ZrO<tspan class="sub" dy="4">2</tspan></text>
<text transform="translate(372,179.6) scale(1,1.04)">CuO</text>
<text transform="translate(355,221.0) scale(1,1.04)">NiO</text>
<text transform="translate(317.3,285.6) scale(1,1.04)">ZrO<tspan class="sub" dy="4">2</tspan></text>
<text transform="translate(317.3,327.7) scale(1,1.04)">Al<tspan class="sub" dy="4">2</tspan><tspan dy="-4">O</tspan><tspan class="sub" dy="4">3</tspan></text>
<text transform="translate(315.8,366.2) scale(1,1.04)">Ga<tspan class="sub" dy="4">2</tspan><tspan dy="-4">O</tspan><tspan class="sub" dy="4">3</tspan></text>
<text transform="translate(259.6,436.2) scale(1,1.04)">cm<tspan class="sup" dy="-5.9" dx="0.6">-1</tspan></text>
</g>
</svg>
</body></html>
